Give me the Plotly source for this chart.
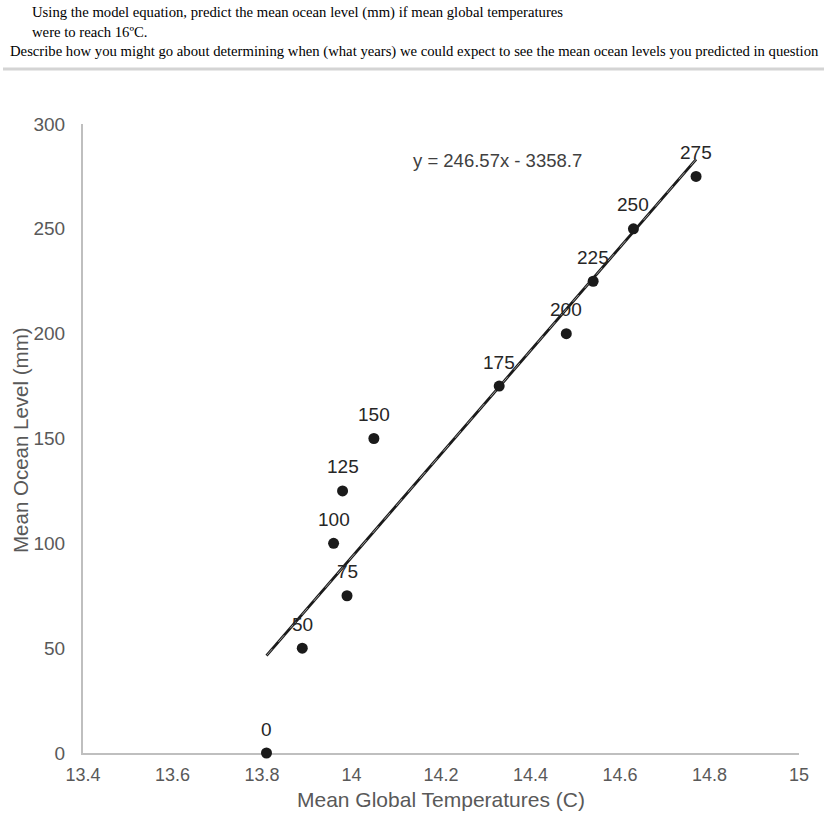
import plotly.graph_objects as go

temps = [13.81, 13.89, 13.99, 13.96, 13.98, 14.05, 14.33, 14.48, 14.54, 14.63, 14.77]
levels = [0, 50, 75, 100, 125, 150, 175, 200, 225, 250, 275]
labels = [str(v) for v in levels]
slope = 246.57
intercept = -3358.7
x_ticks = [13.4, 13.6, 13.8, 14, 14.2, 14.4, 14.6, 14.8, 15]
y_ticks = [0, 50, 100, 150, 200, 250, 300]

W, H = 827, 813
L, R, T, B = 83, 28, 124, 60
pw, ph = W - L - R, H - T - B

def px(x):
    return (x - L) / pw

def py(y):
    return (H - B - y) / ph

sans = "Liberation Sans, Arial"
serif = "Liberation Serif, Times New Roman"

tx = [min(temps), max(temps)]
ty = [slope * v + intercept for v in tx]

fig = go.Figure()
fig.add_trace(go.Scatter(x=tx, y=ty, mode="lines",
                         line=dict(color="#1a1a1a", width=2.8), hoverinfo="skip", showlegend=False))
fig.add_trace(go.Scatter(x=tx, y=ty, mode="lines",
                         line=dict(color="#9a9a9a", width=1, dash="dash"), hoverinfo="skip", showlegend=False))
fig.add_trace(go.Scatter(x=temps, y=levels, mode="markers", cliponaxis=False,
                         marker=dict(color="#1a1a1a", size=11), showlegend=False))

for xv, yv, lab in zip(temps, levels, labels):
    fig.add_annotation(x=xv, y=yv, text=lab, showarrow=False, yshift=24,
                       xanchor="center", yanchor="middle",
                       font=dict(family=sans, size=19, color="#262626"))

anns = [
    dict(text="Using the model equation, predict the mean ocean level (mm) if mean global temperatures",
         x=px(30), y=py(13)),
    dict(text="were to reach 16ºC.", x=px(30), y=py(32)),
    dict(text="Describe how you might go about determining when (what years) we could expect to see the mean ocean levels you predicted in question",
         x=px(8), y=py(51)),
]
for a in anns:
    fig.add_annotation(xref="paper", yref="paper", xanchor="left", yanchor="middle",
                       showarrow=False, font=dict(family=serif, size=14.7, color="#000"), **a)

fig.add_annotation(xref="paper", yref="paper", x=px(497), y=py(160), xanchor="center", yanchor="middle",
                   showarrow=False, text=f"y = {slope}x - {abs(intercept)}",
                   font=dict(family=sans, size=18.5, color="#404040"))

fig.add_annotation(xref="paper", yref="paper", x=px(441), y=py(799), xanchor="center", yanchor="middle",
                   showarrow=False, text="Mean Global Temperatures (C)",
                   font=dict(family=sans, size=21, color="#595959"))
fig.add_annotation(xref="paper", yref="paper", x=px(21), y=py(440), xanchor="center", yanchor="middle",
                   showarrow=False, text="Mean Ocean Level (mm)", textangle=-90,
                   font=dict(family=sans, size=20.5, color="#595959"))

fig.add_shape(type="line", xref="paper", yref="paper", x0=px(3), x1=px(824), y0=py(69), y1=py(69),
              line=dict(color="#d4d4d4", width=3))

fig.update_layout(
    width=W, height=H, margin=dict(l=L, r=R, t=T, b=B),
    plot_bgcolor="white", paper_bgcolor="white",
    xaxis=dict(range=[13.4, 15], tickvals=x_ticks, ticktext=[f"{v:g}" for v in x_ticks],
               showgrid=False, zeroline=False, showline=True, linecolor="#bfbfbf", linewidth=2,
               ticks="", ticklabelstandoff=4, automargin=False, layer="below traces",
               tickfont=dict(family=sans, size=18, color="#595959")),
    yaxis=dict(range=[0, 300], tickvals=y_ticks, showgrid=False, zeroline=False,
               showline=True, linecolor="#bfbfbf", linewidth=2, ticks="", ticklabelstandoff=12,
               automargin=False, layer="below traces",
               tickfont=dict(family=sans, size=19, color="#595959")),
)

fig.write_html("out.html")
